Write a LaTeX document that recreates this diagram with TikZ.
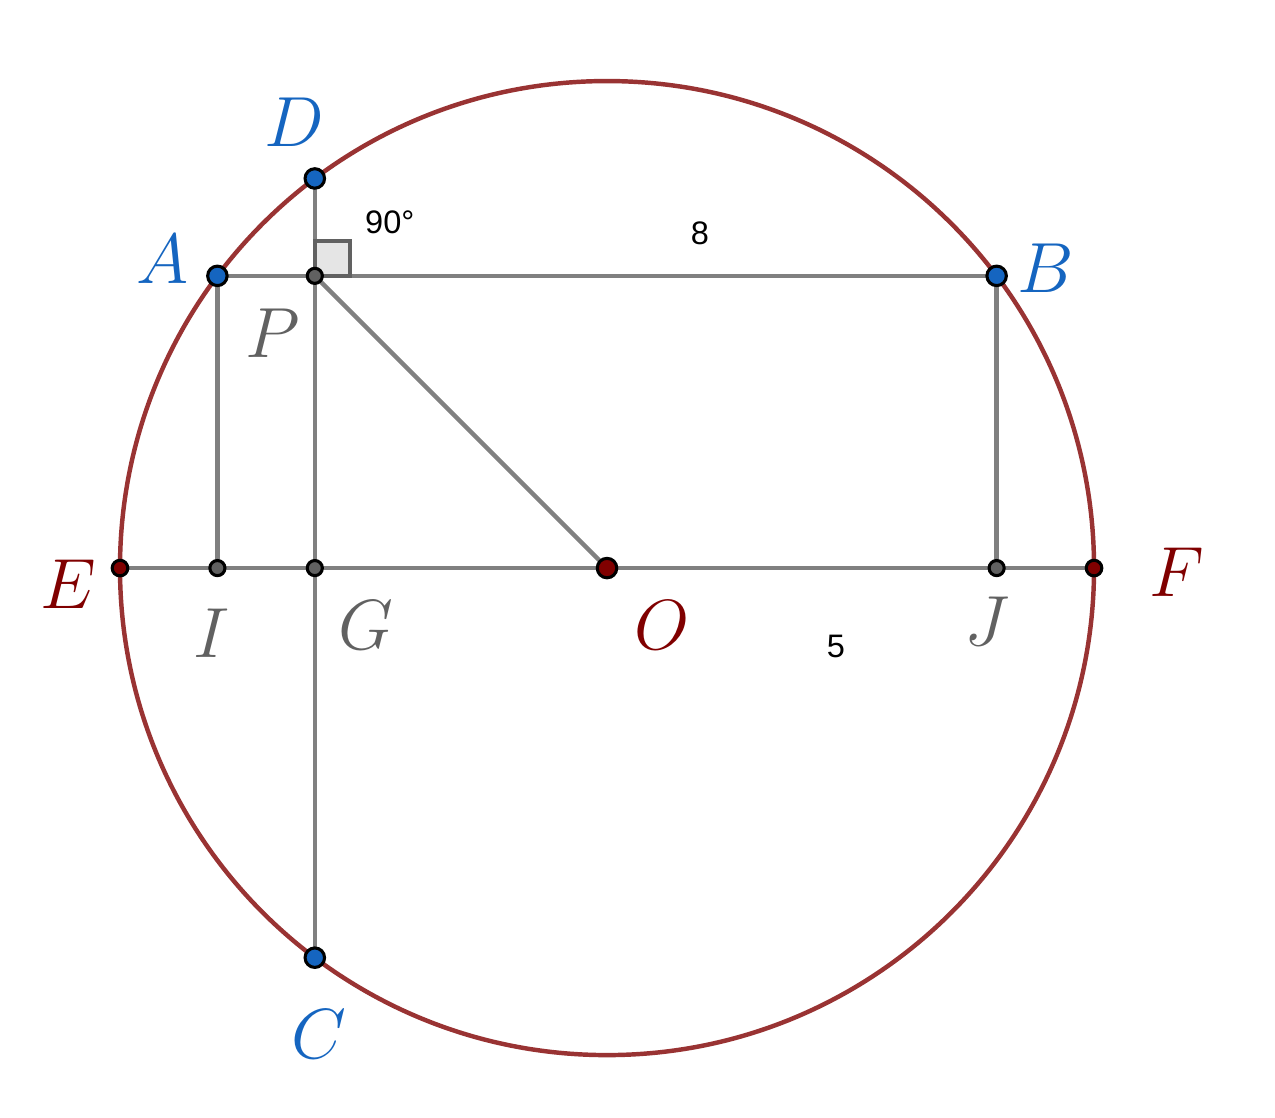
\documentclass[tikz,border=0pt]{standalone}
\usepackage{fontspec}
\newfontfamily\numfont{Liberation Sans}
\usetikzlibrary{calc}
\definecolor{ptblue}{RGB}{21,101,192}
\definecolor{ptred}{RGB}{128,0,0}
\definecolor{circred}{RGB}{153,51,51}
\definecolor{ptgray}{RGB}{97,97,97}
\definecolor{segray}{RGB}{128,128,128}
\tikzstyle{bluept}=[circle,fill=ptblue,draw=black,line width=0.9pt,minimum size=0.2cm,inner sep=0pt]
\tikzstyle{redpt}=[circle,fill=ptred,draw=black,line width=0.9pt,minimum size=0.16cm,inner sep=0pt]
\tikzstyle{graypt}=[circle,fill=ptgray,draw=black,line width=0.9pt,minimum size=0.155cm,inner sep=0pt]
\tikzstyle{seg} = [draw,segray,line width=1.3pt]
\tikzstyle{ptlabel} = [font=\fontsize{21}{25}\selectfont,inner sep=0pt]
\tikzstyle{weight} = [font=\numfont\fontsize{9.5}{11}\selectfont,inner sep=0pt]

\begin{document}
\begin{tikzpicture}
    \useasboundingbox (-6.232,-5.637) rectangle (6.858,5.832);
    % Points of the figure
    \foreach \x/ \y/ \name in {-4/3/A, 4/3/B, -3/-4/C, -3/4/D, -5/0/E, 5/0/F,
        0/0/O, -3/3/P, -4/0/I, -3/0/G, 4/0/J}
        \coordinate (\name) at (\x,\y);

    % Segments
    \foreach \source/ \dest in {E/F, A/B, D/C, A/I, B/J, P/O}
        \path[seg] (\source) -- (\dest);

    % Circle through E and F
    \draw[circred,line width=1.3pt] (O) circle (5);

    % Right angle at P
    \draw[ptgray,fill=black!10,line width=1pt] (P) rectangle ($(P)+(0.36,0.36)$);

    % Points on top
    \foreach \name in {A,B,C,D}
        \node[bluept] (p\name) at (\name) {};
    \foreach \name in {E,F}
        \node[redpt] (p\name) at (\name) {};
    \node[redpt,minimum size=0.2cm] (pO) at (O) {};
    \foreach \name in {P,I,G,J}
        \node[graypt] (p\name) at (\name) {};

    % Labels
    \foreach \x/ \y/ \name in {-3.21/4.58/D, -4.56/3.17/A, 4.50/3.08/B, -2.96/-4.79/C}
        \node[ptlabel,text=ptblue] (l\name) at (\x,\y) {$\name$};
    \foreach \x/ \y/ \name in {-5.53/-0.17/E, 5.85/-0.04/F, 0.565/-0.585/O}
        \node[ptlabel,text=ptred] (l\name) at (\x,\y) {$\name$};
    \foreach \x/ \y/ \name in {-3.43/2.41/P, -4.06/-0.67/I, -2.48/-0.585/G, 3.90/-0.55/J}
        \node[ptlabel,text=ptgray] (l\name) at (\x,\y) {$\name$};

    \node[weight] (angP) at (-2.23,3.55) {90°};
    \node[weight] (lenAB) at (0.955,3.44) {8};
    \node[weight] (lenOF) at (2.35,-0.80) {5};
\end{tikzpicture}
\end{document}
